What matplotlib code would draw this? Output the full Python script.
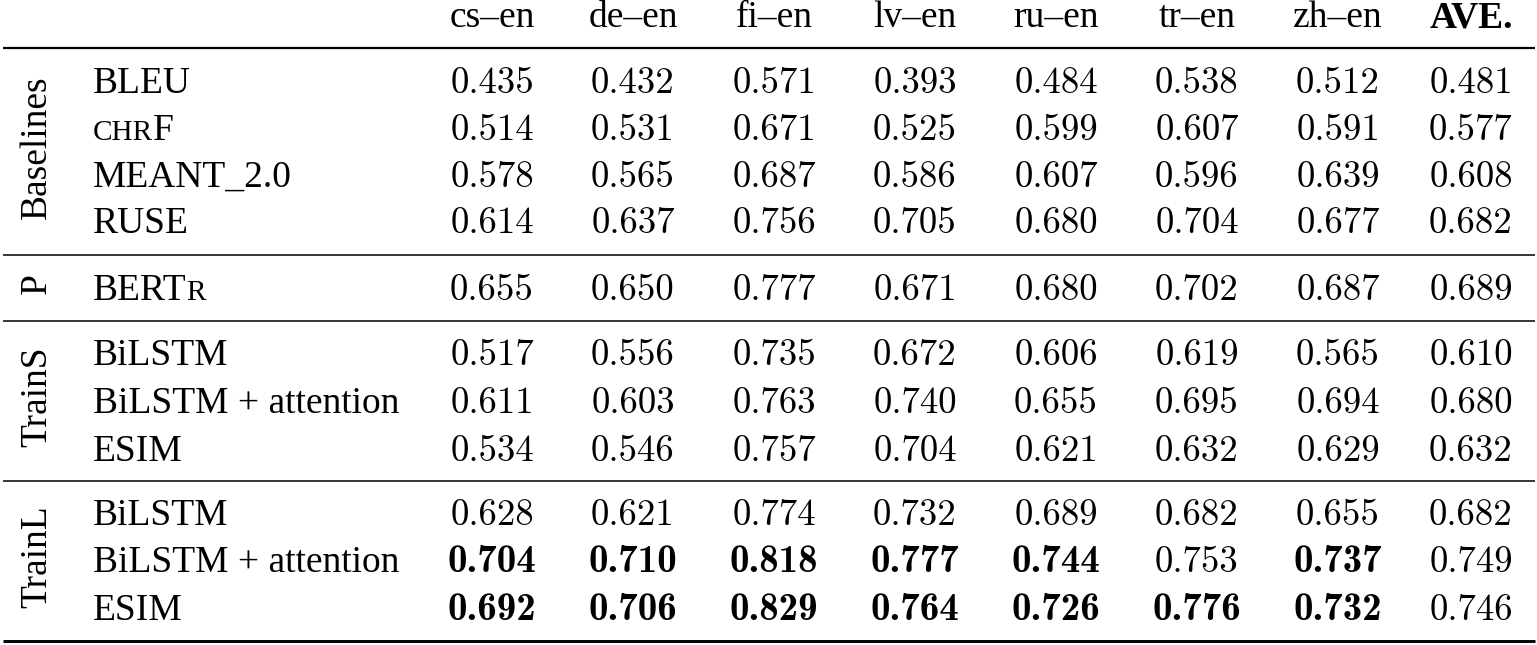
import os
import matplotlib
matplotlib.use("Agg")
import matplotlib.pyplot as plt
from matplotlib.font_manager import FontProperties

# ---------------- data ----------------
pairs = ["cs–en", "de–en", "fi–en", "lv–en", "ru–en", "tr–en", "zh–en"]
ave_label = "AVE."
groups = ["Baselines", "P", "TrainS", "TrainL"]
group_sizes = [4, 1, 3, 3]
# metric names as (text, small_caps) pieces
metrics = [
    [("BLEU", False)],
    [("chr", True), ("F", False)],
    [("MEANT_2.0", False)],
    [("RUSE", False)],
    [("BERT", False), ("r", True)],
    [("BiLSTM", False)],
    [("BiLSTM + attention", False)],
    [("ESIM", False)],
    [("BiLSTM", False)],
    [("BiLSTM + attention", False)],
    [("ESIM", False)],
]
values = [
    [0.435, 0.432, 0.571, 0.393, 0.484, 0.538, 0.512, 0.481],
    [0.514, 0.531, 0.671, 0.525, 0.599, 0.607, 0.591, 0.577],
    [0.578, 0.565, 0.687, 0.586, 0.607, 0.596, 0.639, 0.608],
    [0.614, 0.637, 0.756, 0.705, 0.680, 0.704, 0.677, 0.682],
    [0.655, 0.650, 0.777, 0.671, 0.680, 0.702, 0.687, 0.689],
    [0.517, 0.556, 0.735, 0.672, 0.606, 0.619, 0.565, 0.610],
    [0.611, 0.603, 0.763, 0.740, 0.655, 0.695, 0.694, 0.680],
    [0.534, 0.546, 0.757, 0.704, 0.621, 0.632, 0.629, 0.632],
    [0.628, 0.621, 0.774, 0.732, 0.689, 0.682, 0.655, 0.682],
    [0.704, 0.710, 0.818, 0.777, 0.744, 0.753, 0.737, 0.749],
    [0.692, 0.706, 0.829, 0.764, 0.726, 0.776, 0.732, 0.746],
]
bold = [
    [0] * 8, [0] * 8, [0] * 8, [0] * 8, [0] * 8, [0] * 8, [0] * 8, [0] * 8, [0] * 8,
    [1, 1, 1, 1, 1, 0, 1, 0],
    [1, 1, 1, 1, 1, 1, 1, 0],
]

# ---------------- layout ----------------
W, H = 1537, 645
SERIF = ['Liberation Serif', 'DejaVu Serif']
FS = 27
NFS = 26.5
SC = 0.78
ttf_dir = os.path.join(matplotlib.get_data_path(), 'fonts', 'ttf')
num_reg = FontProperties(fname=os.path.join(ttf_dir, 'cmr10.ttf'), size=NFS)
num_bold = FontProperties(fname=os.path.join(ttf_dir, 'cmb10.ttf'), size=NFS * 1.06)

fig = plt.figure(figsize=(W / 100, H / 100), dpi=100)
ax = fig.add_axes([0, 0, 1, 1])
ax.set_xlim(0, W)
ax.set_ylim(H, 0)
ax.axis('off')
renderer = fig.canvas.get_renderer()

col_x = [492 + 141 * i for i in range(len(pairs))] + [1471]
header_base = 27
row_base = [93, 140, 187, 233, 300, 365, 413, 461, 525, 572, 620]
label_x = 93
group_x = 37
rules = [(48, 1.6), (255, 1.1), (321, 1.1), (481, 1.1), (641, 2.1)]

for y, lw in rules:
    ax.plot([3, 1535], [y, y], color='black', lw=lw, solid_capstyle='butt')

for i, p in enumerate(pairs):
    ax.text(col_x[i], header_base, p, family=SERIF, fontsize=FS,
            ha='center', va='baseline')
ax.text(col_x[-1], header_base, ave_label, family=SERIF, fontsize=FS,
        weight='bold', ha='center', va='baseline')

inv = ax.transData.inverted()
for r, pieces in enumerate(metrics):
    x = label_x
    for txt, sc in pieces:
        t = ax.text(x, row_base[r], txt.upper() if sc else txt, family=SERIF,
                    fontsize=FS * SC if sc else FS, ha='left', va='baseline')
        bb = t.get_window_extent(renderer=renderer)
        x = inv.transform((bb.x1, 0))[0]
    for c, v in enumerate(values[r]):
        fp = num_bold if bold[r][c] else num_reg
        ax.text(col_x[c], row_base[r], f"{v:.3f}", fontproperties=fp,
                ha='center', va='baseline')

start = 0
for g, n in zip(groups, group_sizes):
    ys = row_base[start:start + n]
    yc = (ys[0] + ys[-1]) / 2 - 11 - 5
    ax.text(group_x, yc, g, family=SERIF, fontsize=FS, rotation=90,
            ha='center', va='center', rotation_mode='anchor')
    start += n

fig.savefig("out.png", dpi=100)
